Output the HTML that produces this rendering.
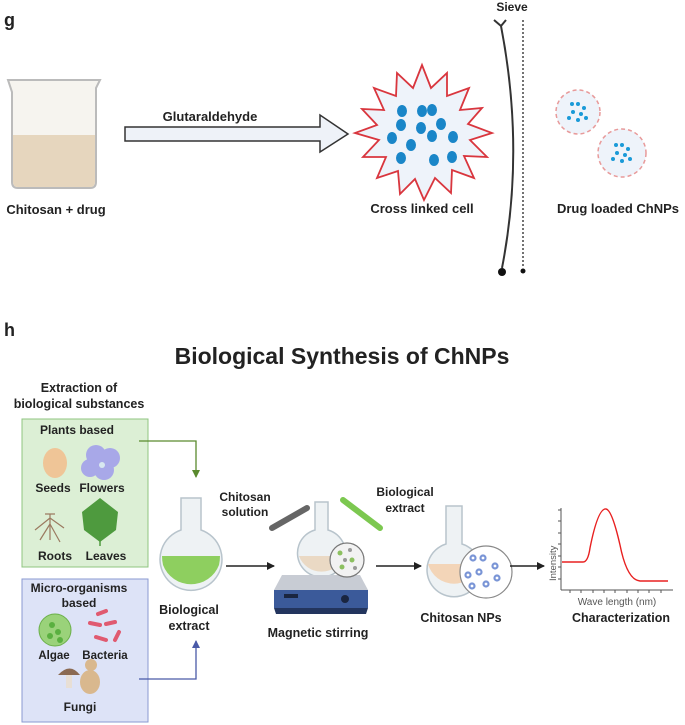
<!DOCTYPE html>
<html><head><meta charset="utf-8"><style>
html,body{margin:0;padding:0;background:#fff;}
svg{display:block;font-family:"Liberation Sans",sans-serif;}
.b{font-weight:bold;fill:#222;}
</style></head><body>
<svg width="685" height="725" viewBox="0 0 685 725" xmlns="http://www.w3.org/2000/svg">
<defs>
<marker id="ah" markerWidth="8" markerHeight="8" refX="7" refY="4" orient="auto" markerUnits="userSpaceOnUse"><path d="M0,0 L8,4 L0,8 z" fill="#222"/></marker>
<marker id="ag" markerWidth="8" markerHeight="8" refX="7" refY="4" orient="auto" markerUnits="userSpaceOnUse"><path d="M0,0 L8,4 L0,8 z" fill="#5a8a2e"/></marker>
<marker id="ab" markerWidth="8" markerHeight="8" refX="7" refY="4" orient="auto" markerUnits="userSpaceOnUse"><path d="M0,0 L8,4 L0,8 z" fill="#4a5aa8"/></marker>
</defs>
<!-- g panel -->
<text x="4" y="26" class="b" font-size="18" fill="#000">g</text>
<!-- beaker -->
<path d="M8,80 L100,80 L96,88 L96,182 Q96,188 90,188 L18,188 Q12,188 12,182 L12,92 Z" fill="#f6f4ef" stroke="#bbb" stroke-width="2"/>
<path d="M13,135 L95,135 L95,182 Q95,187 90,187 L18,187 Q13,187 13,182 Z" fill="#e6d6be"/>
<text x="56" y="214" class="b" font-size="13" text-anchor="middle">Chitosan + drug</text>
<text x="210" y="121" class="b" font-size="13" text-anchor="middle">Glutaraldehyde</text>
<path d="M125,127 L320,127 L320,115 L348,134 L320,152 L320,141 L125,141 Z" fill="#eef2f8" stroke="#333" stroke-width="1.5"/>
<!-- big star -->
<polygon id="st" fill="#eef3fa" stroke="#d9363e" stroke-width="1.8" points="
492,133 470,140 487,157 464,156 474,178 452,170 451,193 435,178 424,200 415,179 400,194 398,171 377,178 386,157 363,157 379,140 355,133 377,125 362,109 384,110 374,88 396,96 397,73 413,88 422,65 431,88 447,73 447,96 469,88 460,110 482,108 468,124"/>
<g fill="#1a86c8">
<ellipse cx="402" cy="111" rx="5" ry="6"/><ellipse cx="422" cy="111" rx="5" ry="6"/><ellipse cx="432" cy="110" rx="5" ry="6"/>
<ellipse cx="401" cy="125" rx="5" ry="6"/><ellipse cx="421" cy="128" rx="5" ry="6"/><ellipse cx="441" cy="124" rx="5" ry="6"/>
<ellipse cx="392" cy="138" rx="5" ry="6"/><ellipse cx="432" cy="136" rx="5" ry="6"/><ellipse cx="453" cy="137" rx="5" ry="6"/>
<ellipse cx="411" cy="145" rx="5" ry="6"/><ellipse cx="401" cy="158" rx="5" ry="6"/><ellipse cx="434" cy="160" rx="5" ry="6"/><ellipse cx="452" cy="157" rx="5" ry="6"/>
</g>
<text x="422" y="213" class="b" font-size="13" text-anchor="middle">Cross linked cell</text>
<!-- sieve -->
<text x="512" y="11" class="b" font-size="12" text-anchor="middle">Sieve</text>
<path d="M494,20 L501,26 L506,20 M501,26 Q525,150 502,268" fill="none" stroke="#333" stroke-width="2"/>
<circle cx="502" cy="272" r="4" fill="#111"/>
<line x1="523" y1="20" x2="523" y2="268" stroke="#444" stroke-width="1.5" stroke-dasharray="2,2"/>
<circle cx="523" cy="271" r="2.5" fill="#111"/>
<!-- small stars -->
<g transform="translate(578,112)">
<circle r="22" fill="#eef3fa" stroke="#e89a9a" stroke-width="1.5" stroke-dasharray="4,3"/>
<g fill="#1a9ad8"><circle cx="-6" cy="-8" r="2"/><circle cx="0" cy="-8" r="2"/><circle cx="6" cy="-4" r="2"/><circle cx="-5" cy="0" r="2"/><circle cx="3" cy="2" r="2"/><circle cx="-9" cy="6" r="2"/><circle cx="8" cy="6" r="2"/><circle cx="0" cy="8" r="2"/></g></g>
<g transform="translate(622,153)">
<circle r="24" fill="#eef3fa" stroke="#e89a9a" stroke-width="1.5" stroke-dasharray="4,3"/>
<g fill="#1a9ad8"><circle cx="-6" cy="-8" r="2"/><circle cx="0" cy="-8" r="2"/><circle cx="6" cy="-4" r="2"/><circle cx="-5" cy="0" r="2"/><circle cx="3" cy="2" r="2"/><circle cx="-9" cy="6" r="2"/><circle cx="8" cy="6" r="2"/><circle cx="0" cy="8" r="2"/></g></g>
<text x="618" y="213" class="b" font-size="13" text-anchor="middle">Drug loaded ChNPs</text>

<!-- h panel -->
<text x="4" y="336" class="b" font-size="18" fill="#000">h</text>
<text x="342" y="364" class="b" font-size="23" text-anchor="middle">Biological Synthesis of ChNPs</text>
<text x="79" y="392" class="b" font-size="12.5" text-anchor="middle">Extraction of</text>
<text x="79" y="408" class="b" font-size="12.5" text-anchor="middle">biological substances</text>
<rect x="22" y="419" width="126" height="148" fill="#dcefd5" stroke="#8fc480" stroke-width="1"/>
<text x="77" y="434" class="b" font-size="12" text-anchor="middle">Plants based</text>
<ellipse cx="55" cy="463" rx="12" ry="15" fill="#efc597"/>
<g fill="#a8a8e8"><circle cx="96" cy="455" r="10"/><circle cx="110" cy="458" r="10"/><circle cx="104" cy="470" r="10"/><circle cx="90" cy="468" r="9"/></g>
<circle cx="102" cy="465" r="3" fill="#d8e8f0"/>
<text x="53" y="492" class="b" font-size="12" text-anchor="middle">Seeds</text>
<text x="102" y="492" class="b" font-size="12" text-anchor="middle">Flowers</text>
<path d="M50,514 L50,540 M50,518 L35,530 M50,518 L64,528 M50,524 L40,540 M50,524 L60,542 M45,514 L55,514" stroke="#9b7a60" stroke-width="1.2" fill="none"/>
<path d="M100,498 L118,512 L116,530 L100,542 L84,530 L82,512 Z" fill="#4e9a3e"/>
<line x1="100" y1="540" x2="100" y2="546" stroke="#4e9a3e" stroke-width="1.5"/>
<text x="55" y="560" class="b" font-size="12" text-anchor="middle">Roots</text>
<text x="106" y="560" class="b" font-size="12" text-anchor="middle">Leaves</text>
<rect x="22" y="579" width="126" height="143" fill="#dde3f7" stroke="#8a9ad0" stroke-width="1"/>
<text x="79" y="592" class="b" font-size="12" text-anchor="middle">Micro-organisms</text>
<text x="79" y="607" class="b" font-size="12" text-anchor="middle">based</text>
<circle cx="55" cy="630" r="16" fill="#9ad27a" stroke="#6bb04a"/>
<g fill="#5ab040"><circle cx="52" cy="625" r="3"/><circle cx="58" cy="632" r="3"/><circle cx="50" cy="636" r="3"/><circle cx="60" cy="640" r="3"/></g>
<g stroke="#e05a70" stroke-width="4" stroke-linecap="round"><line x1="98" y1="614" x2="106" y2="611"/><line x1="90" y1="623" x2="100" y2="625"/><line x1="106" y1="624" x2="115" y2="622"/><line x1="96" y1="637" x2="106" y2="640"/><line x1="115" y1="640" x2="119" y2="632"/></g>
<text x="54" y="659" class="b" font-size="11.5" text-anchor="middle">Algae</text>
<text x="105" y="659" class="b" font-size="11.5" text-anchor="middle">Bacteria</text>
<path d="M58,675 Q70,662 80,675 Z" fill="#8b6a52"/><rect x="66" y="675" width="6" height="13" fill="#e8dfd5"/>
<ellipse cx="90" cy="682" rx="10" ry="12" fill="#d9b88e"/><circle cx="91" cy="665" r="6" fill="#d9b88e"/>
<text x="80" y="711" class="b" font-size="12" text-anchor="middle">Fungi</text>
<path d="M139,441 L196,441 L196,477" fill="none" stroke="#5a8a2e" stroke-width="1.3" marker-end="url(#ag)"/>
<path d="M139,679 L196,679 L196,641" fill="none" stroke="#4a5aa8" stroke-width="1.3" marker-end="url(#ab)"/>
<!-- flask 1 -->
<path d="M181,498 L201,498 L201,530 A31,31 0 1 1 181,530 Z" fill="#eef2f4" stroke="#b8c4cc" stroke-width="1.5"/>
<path d="M163,565 A30,30 0 0 0 219,565 Q220,560 220,556 L162,556 Q162,560 163,565 Z" fill="#8ecf5f"/>
<text x="189" y="614" class="b" font-size="12.5" text-anchor="middle">Biological</text>
<text x="189" y="630" class="b" font-size="12.5" text-anchor="middle">extract</text>
<line x1="226" y1="566" x2="274" y2="566" stroke="#222" stroke-width="1.5" marker-end="url(#ah)"/>
<!-- stirring -->
<text x="245" y="501" class="b" font-size="12" text-anchor="middle">Chitosan</text>
<text x="245" y="516" class="b" font-size="12" text-anchor="middle">solution</text>
<line x1="272" y1="528" x2="307" y2="508" stroke="#666" stroke-width="6" stroke-linecap="round"/>
<line x1="343" y1="500" x2="380" y2="528" stroke="#7cc850" stroke-width="6" stroke-linecap="round"/>
<text x="405" y="496" class="b" font-size="12" text-anchor="middle">Biological</text>
<text x="405" y="512" class="b" font-size="12" text-anchor="middle">extract</text>
<path d="M315,502 L328,502 L328,530 A24,24 0 1 1 315,530 Z" fill="#eef2f4" stroke="#b8c4cc" stroke-width="1.5"/>
<path d="M299,556 L344,556 A24,24 0 0 1 299,556 Z" fill="#ead9c4"/>
<path d="M282,575 L360,575 L368,590 L274,590 Z" fill="#c8ccd4"/>
<path d="M274,590 L368,590 L368,608 L274,608 Z" fill="#3b5a9a"/>
<path d="M274,608 L368,608 L366,614 L276,614 Z" fill="#23355e"/>
<rect x="284" y="594" width="14" height="4" fill="#1a2540"/><circle cx="345" cy="599" r="4" fill="#1a2540"/>
<circle cx="347" cy="560" r="17" fill="#f2f2f2" stroke="#777" stroke-width="1.2"/>
<g fill="#8cc060"><circle cx="340" cy="553" r="2.5"/><circle cx="352" cy="560" r="2.5"/><circle cx="342" cy="567" r="2.5"/></g>
<g fill="#999"><circle cx="350" cy="550" r="2"/><circle cx="345" cy="560" r="2"/><circle cx="355" cy="568" r="2"/></g>
<text x="318" y="637" class="b" font-size="12.5" text-anchor="middle">Magnetic stirring</text>
<line x1="376" y1="566" x2="421" y2="566" stroke="#222" stroke-width="1.5" marker-end="url(#ah)"/>
<!-- flask 2 -->
<path d="M446,506 L462,506 L462,544 A27,27 0 1 1 446,544 Z" fill="#eef2f4" stroke="#b8c4cc" stroke-width="1.5"/>
<path d="M428,564 L480,564 A27,27 0 0 1 428,564 Z" fill="#f3d5b8"/>
<circle cx="486" cy="572" r="26" fill="#fff" stroke="#888" stroke-width="1.2"/>
<g fill="none" stroke="#7a95d6" stroke-width="2.2"><circle cx="473" cy="558" r="2.5"/><circle cx="483" cy="558" r="2.5"/><circle cx="495" cy="566" r="2.5"/><circle cx="468" cy="575" r="2.5"/><circle cx="479" cy="572" r="2.5"/><circle cx="497" cy="578" r="2.5"/><circle cx="486" cy="584" r="2.5"/><circle cx="472" cy="586" r="2.5"/></g>
<text x="461" y="622" class="b" font-size="12.5" text-anchor="middle">Chitosan NPs</text>
<line x1="510" y1="566" x2="544" y2="566" stroke="#222" stroke-width="1.5" marker-end="url(#ah)"/>
<!-- chart -->
<g stroke="#555" stroke-width="1"><line x1="561" y1="508" x2="561" y2="590"/><line x1="561" y1="590" x2="673" y2="590"/>
<path d="M558,510h3M558,521h3M558,533h3M558,544h3M558,556h3M558,567h3M558,579h3M570,590v3M581,590v3M593,590v3M604,590v3M615,590v3M627,590v3M638,590v3M649,590v3M661,590v3"/></g>
<path d="M562,562 L583,562 Q588,562 590,548 Q598,508 606,509 Q612,510 620,545 Q627,580 640,581 L668,581" fill="none" stroke="#e82020" stroke-width="1.4"/>
<text transform="translate(556,581) rotate(-90)" font-size="9.5" fill="#555">Intensity</text>
<text x="617" y="605" font-size="10" fill="#555" text-anchor="middle">Wave length (nm)</text>
<text x="621" y="622" class="b" font-size="12.5" text-anchor="middle">Characterization</text>
</svg>
</body></html>
